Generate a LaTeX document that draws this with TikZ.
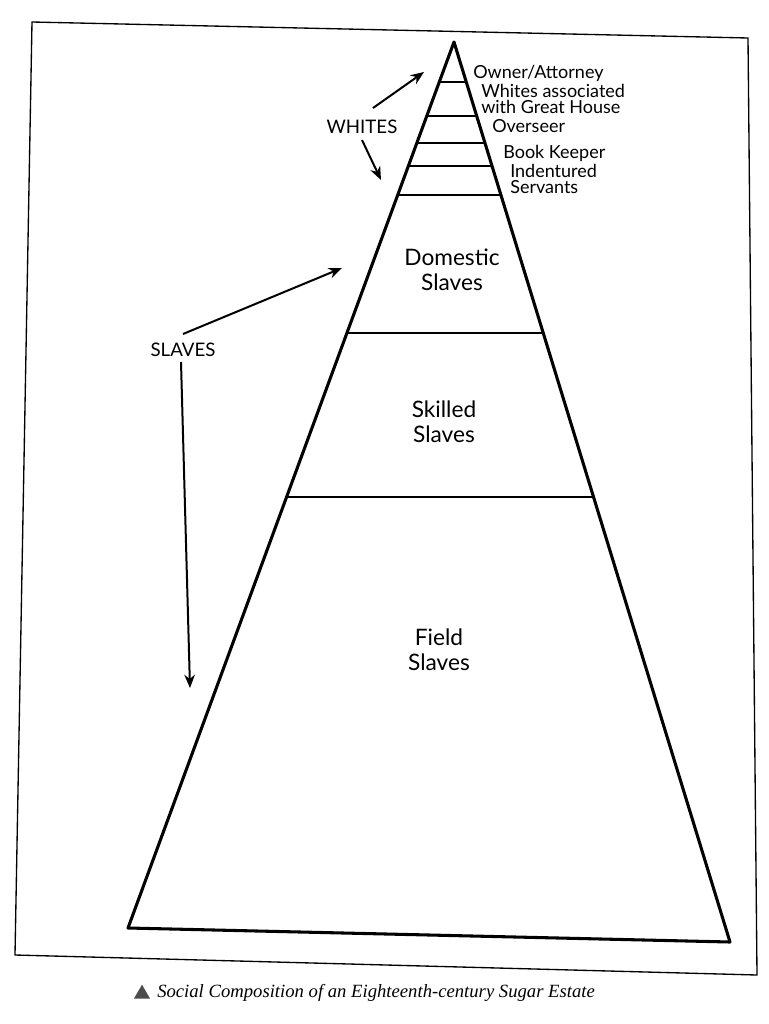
\documentclass[tikz,border=0pt]{standalone}
\usepackage{fontspec}
\setmainfont{Liberation Serif}
\newfontfamily\lab{Lato}
\usetikzlibrary{arrows.meta,shapes.geometric}
\begin{document}
\begin{tikzpicture}[x=0.75pt,y=-0.75pt,
  small/.style={font=\lab\fontsize{13.5}{12}\selectfont,anchor=west,align=left,inner sep=0pt},
  big/.style={font=\lab\fontsize{17}{19}\selectfont,align=center,inner sep=0pt},
  side/.style={font=\lab\fontsize{14}{14}\selectfont,inner sep=1pt},
  arr/.style={line width=1.5pt,-{Stealth[length=10pt,width=8pt]}},
  tier/.style={line width=1.5pt}]
\useasboundingbox (0,0) rectangle (768,1024);
\fill[white] (0,0) rectangle (768,1024);
\draw[line width=1pt] (32,22) -- (748,38) -- (757,975) -- (15,955) -- cycle;
\coordinate (apex) at (454,42);
\coordinate (bl) at (128,928);
\coordinate (br) at (730,942);
\draw[line width=2.3pt,line join=round] (apex) -- (bl) -- (br) -- cycle;
\foreach \y/\l/\r in {82/439.3/466.3,116/426.8/476.7,143/416.8/485,166/408.4/492,195/397.7/500.9,333/346.9/543.2,497/286.6/593.5}
  \draw[tier] (\l,\y) -- (\r,\y);
\node[small] (own) at (473,73) {Owner/Attorney};
\node[small] (wgh) at (481,99) {Whites associated\\with Great House};
\node[small] (ovr) at (492,126) {Overseer};
\node[small] (bk) at (503,153) {Book Keeper};
\node[small] (ind) at (510,179) {Indentured\\Servants};
\node[big] (dom) at (452,270) {Domestic\\Slaves};
\node[big] (ski) at (444,422) {Skilled\\Slaves};
\node[big] (fld) at (439,650) {Field\\Slaves};
\node[side] (wh) at (362,127) {WHITES};
\node[side] (sl) at (183,350) {SLAVES};
\coordinate (w1) at (424,72); \coordinate (w2) at (381,180);
\coordinate (s1) at (342,268); \coordinate (s2) at (190,688);
\draw[arr] (373,108) -- (w1);
\draw[arr] (362,140) -- (w2);
\draw[arr] (183,334) -- (s1);
\draw[arr] (181,362) -- (s2);
\node[fill=black!70,regular polygon,regular polygon sides=3,inner sep=0pt,minimum size=14pt] (tri) at (142,994) {};
\node[anchor=west,font=\itshape\fontsize{14}{14}\selectfont,inner sep=0pt] (cap) at (157,993) {Social Composition of an Eighteenth-century Sugar Estate};
\end{tikzpicture}
\end{document}
